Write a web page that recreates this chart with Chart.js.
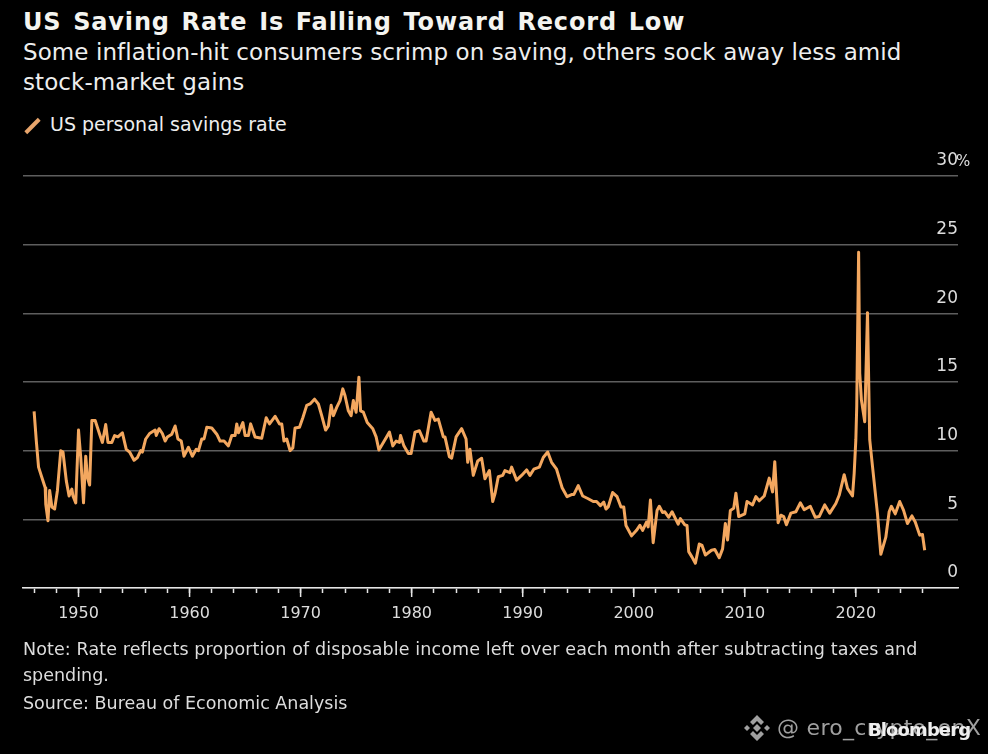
<!DOCTYPE html>
<html>
<head>
<meta charset="utf-8">
<title>US Saving Rate</title>
<script src="https://cdn.jsdelivr.net/npm/chart.js@4"></script>
<style>
  html, body { margin: 0; background: #000; }
  body { position: relative; width: 988px; height: 754px; overflow: hidden; font-family: "DejaVu Sans", sans-serif; color: #eee; }
  canvas { position: absolute; left: 0; top: 0; }
  .txt { position: absolute; white-space: nowrap; }
  #title { left: 23px; top: 8px; font-size: 24px; font-weight: bold; color: #f4f4f0; letter-spacing: 0.85px; word-spacing: 2.5px; }
  .sub { left: 23px; font-size: 23px; color: #eee; letter-spacing: 0.08px; }
  #legend { left: 50px; top: 113px; font-size: 19px; color: #eee; }
  #swatch { position: absolute; left: 23px; top: 124px; width: 19px; height: 4px; background: #e8a56c; transform: rotate(-45deg); }
  .note { left: 23px; font-size: 17.5px; color: #ddd; }
  #pct { left: 956px; top: 152px; font-size: 15px; color: #ddd; }
  #mark { left: 777px; top: 715px; font-size: 22px; color: #a0a0a0; letter-spacing: 0.3px; }
  #brand { left: 868px; top: 719px; font-size: 18px; font-weight: bold; color: #eee; letter-spacing: -0.9px; }
  #icon { position: absolute; left: 743px; top: 714px; }
</style>
</head>
<body>
<div class="txt" id="title">US Saving Rate Is Falling Toward Record Low</div>
<div class="txt sub" style="top:39px">Some inflation-hit consumers scrimp on saving, others sock away less amid</div>
<div class="txt sub" style="top:69px">stock-market gains</div>
<div id="swatch"></div>
<div class="txt" id="legend">US personal savings rate</div>
<canvas id="chart" width="988" height="754"></canvas>
<div class="txt" id="pct">%</div>
<div class="txt note" style="top:639px; letter-spacing:0.11px">Note: Rate reflects proportion of disposable income left over each month after subtracting taxes and</div>
<div class="txt note" style="top:665px">spending.</div>
<div class="txt note" style="top:693px">Source: Bureau of Economic Analysis</div>
<svg id="icon" width="28" height="28" viewBox="0 0 28 28" fill="#a0a0a0">
  <polygon points="14,1 21,8 18,11 14,7 10,11 7,8"/>
  <polygon points="14,27 21,20 18,17 14,21 10,17 7,20"/>
  <polygon points="1,14 4,11 7,14 4,17"/>
  <polygon points="27,14 24,11 21,14 24,17"/>
  <polygon points="14,10 18,14 14,18 10,14"/>
</svg>
<div class="txt" id="mark">@ ero_crypto_onX</div>
<div class="txt" id="brand">Bloomberg</div>
<script>
const years = [
  1946.0, 1946.2, 1946.4, 1946.7, 1947.0, 1947.05, 1947.25, 1947.4, 1947.6, 1947.85,
  1948.1, 1948.4, 1948.6, 1948.9, 1949.15, 1949.4, 1949.5, 1949.75, 1950.0, 1950.2,
  1950.45, 1950.65, 1950.8, 1951.0, 1951.2, 1951.5, 1951.9, 1952.15, 1952.45, 1952.65,
  1953.0, 1953.25, 1953.55, 1953.95, 1954.3, 1954.6, 1955.0, 1955.3, 1955.6, 1955.75,
  1956.05, 1956.4, 1956.9, 1957.0, 1957.25, 1957.55, 1957.8, 1958.0, 1958.4, 1958.7,
  1958.95, 1959.25, 1959.5, 1959.9, 1960.25, 1960.6, 1960.8, 1961.1, 1961.3, 1961.55,
  1962.0, 1962.45, 1962.75, 1963.1, 1963.5, 1963.8, 1964.1, 1964.25, 1964.4, 1964.8,
  1965.0, 1965.3, 1965.5, 1965.9, 1966.5, 1966.9, 1967.2, 1967.7, 1968.1, 1968.3,
  1968.5, 1968.75, 1969.05, 1969.3, 1969.5, 1969.9, 1970.2, 1970.55, 1970.85, 1971.25,
  1971.6, 1971.9, 1972.25, 1972.5, 1972.75, 1972.95, 1973.25, 1973.55, 1973.8, 1974.0,
  1974.3, 1974.55, 1974.75, 1975.0, 1975.25, 1975.4, 1975.65, 1976.0, 1976.5, 1976.8,
  1977.05, 1977.45, 1978.0, 1978.3, 1978.6, 1978.9, 1979.0, 1979.3, 1979.7, 1979.95,
  1980.3, 1980.7, 1981.1, 1981.3, 1981.75, 1982.1, 1982.4, 1982.85, 1983.0, 1983.4,
  1983.6, 1984.0, 1984.5, 1984.9, 1985.05, 1985.25, 1985.55, 1985.95, 1986.3, 1986.6,
  1987.0, 1987.3, 1987.5, 1987.8, 1988.2, 1988.4, 1988.85, 1989.0, 1989.45, 1989.9,
  1990.35, 1990.65, 1991.0, 1991.5, 1991.85, 1992.25, 1992.6, 1993.05, 1993.55, 1994.0,
  1994.4, 1994.6, 1995.0, 1995.4, 1995.9, 1996.35, 1996.65, 1997.0, 1997.3, 1997.5,
  1997.7, 1998.1, 1998.5, 1998.85, 1999.1, 1999.3, 1999.8, 2000.25, 2000.55, 2000.8,
  2001.15, 2001.3, 2001.5, 2001.75, 2002.1, 2002.3, 2002.6, 2002.8, 2003.15, 2003.45,
  2004.0, 2004.2, 2004.6, 2004.8, 2004.95, 2005.25, 2005.55, 2005.9, 2006.15, 2006.45,
  2007.0, 2007.3, 2007.7, 2008.0, 2008.25, 2008.45, 2008.7, 2009.0, 2009.2, 2009.45,
  2010.0, 2010.2, 2010.7, 2011.0, 2011.3, 2011.75, 2012.2, 2012.5, 2012.7, 2013.0,
  2013.25, 2013.5, 2013.75, 2014.15, 2014.6, 2015.0, 2015.35, 2015.9, 2016.35, 2016.7,
  2017.2, 2017.65, 2018.2, 2018.5, 2018.95, 2019.25, 2019.7, 2019.85, 2020.0, 2020.08,
  2020.25, 2020.35, 2020.5, 2020.8, 2021.05, 2021.25, 2021.5, 2021.95, 2022.25, 2022.7,
  2023.0, 2023.2, 2023.55, 2023.95, 2024.3, 2024.65, 2025.05, 2025.35, 2025.75, 2026.0,
  2026.2
];
const savingsRate = [
  12.86, 10.7, 8.8, 8.05, 7.3, 6.1, 4.9, 7.1, 5.9, 5.75,
  7.1, 10.0, 9.9, 7.8, 6.7, 7.2, 6.7, 6.2, 11.5, 9.5,
  6.2, 9.6, 8.05, 7.5, 12.2, 12.2, 11.2, 10.6, 11.9, 10.6,
  10.6, 11.1, 11.0, 11.3, 10.1, 9.9, 9.3, 9.5, 10.0, 9.9,
  10.85, 11.25, 11.5, 11.1, 11.6, 11.25, 10.7, 11.0, 11.2, 11.8,
  10.85, 10.7, 9.6, 10.25, 9.6, 10.1, 10.0, 10.85, 10.85, 11.7,
  11.65, 11.2, 10.7, 10.7, 10.35, 11.1, 11.1, 11.95, 11.3, 12.05,
  11.1, 11.1, 11.95, 11.0, 10.9, 12.4, 11.95, 12.5, 11.95, 11.95,
  10.7, 10.85, 10.0, 10.2, 11.65, 11.7, 12.4, 13.3, 13.4, 13.75,
  13.4, 12.55, 11.5, 11.8, 13.3, 12.55, 13.15, 13.65, 14.5, 14.0,
  12.9, 12.55, 13.65, 12.8, 15.35, 12.9, 12.8, 12.05, 11.6, 11.0,
  10.05, 10.6, 11.35, 10.35, 10.7, 10.6, 11.1, 10.35, 9.8, 9.8,
  11.35, 11.45, 10.7, 10.7, 12.8, 12.2, 12.3, 11.0, 11.0, 9.55,
  9.45, 11.0, 11.6, 10.85, 9.15, 10.1, 8.2, 9.25, 9.45, 7.95,
  8.55, 6.3, 6.85, 8.1, 8.2, 8.55, 8.4, 8.8, 7.85, 8.2,
  8.6, 8.2, 8.65, 8.8, 9.5, 9.9, 9.15, 8.65, 7.3, 6.65,
  6.8, 6.8, 7.45, 6.7, 6.5, 6.3, 6.3, 6.0, 6.25, 5.75,
  5.9, 6.95, 6.65, 5.9, 5.9, 4.55, 3.8, 4.2, 4.57, 4.2,
  4.8, 4.45, 6.4, 3.3, 5.65, 5.95, 5.5, 5.55, 5.15, 5.55,
  4.65, 5.05, 4.6, 4.55, 2.65, 2.25, 1.8, 3.2, 3.1, 2.4,
  2.75, 2.8, 2.2, 2.85, 4.7, 3.5, 5.65, 5.8, 6.9, 5.2,
  5.4, 6.3, 6.05, 6.65, 6.35, 6.7, 8.0, 7.0, 9.2, 4.75,
  5.3, 5.2, 4.6, 5.45, 5.55, 6.2, 5.7, 5.95, 5.15, 5.2,
  6.05, 5.45, 6.15, 6.75, 8.25, 7.25, 6.7, 8.35, 10.8, 13.2,
  24.45, 15.65, 13.7, 12.1, 20.05, 10.8, 8.85, 5.4, 2.45, 3.7,
  5.55, 5.95, 5.4, 6.3, 5.65, 4.7, 5.25, 4.8, 3.85, 3.9,
  2.75
];
const yTicks = [0, 5, 10, 15, 20, 25, 30];

// decade ticks are a bit longer than the two-year ones
const longTicks = {
  id: "longTicks",
  afterDraw(chart) {
    const ctx = chart.ctx;
    const x = chart.scales.x;
    ctx.save();
    ctx.strokeStyle = "#e6e6e6";
    ctx.lineWidth = 1.5;
    x.ticks.forEach(t => {
      if (t.value % 10 !== 0) return;
      const px = x.getPixelForValue(t.value);
      ctx.beginPath();
      ctx.moveTo(px, x.top);
      ctx.lineTo(px, x.top + 9);
      ctx.stroke();
    });
    ctx.restore();
  }
};

new Chart(document.getElementById("chart"), {
  type: "line",
  data: {
    datasets: [{
      label: "US personal savings rate",
      data: years.map((y, i) => ({ x: y, y: savingsRate[i] })),
      borderColor: "#f3a75f",
      borderWidth: 3,
      borderJoinStyle: "round",
      pointRadius: 0,
      tension: 0
    }]
  },
  options: {
    responsive: false,
    animation: false,
    layout: { padding: { left: 23, right: 30, top: 176, bottom: 0 } },
    plugins: { legend: { display: false }, tooltip: { enabled: false } },
    scales: {
      x: {
        type: "linear",
        min: 1945,
        max: 2029.2,
        afterBuildTicks(scale) {
          const t = [];
          for (let v = 1946; v <= 2026; v += 2) t.push({ value: v });
          scale.ticks = t;
        },
        afterFit(scale) { scale.height = 166; },
        grid: { drawOnChartArea: false, drawTicks: true, tickLength: 5, tickColor: "#e6e6e6", tickWidth: 1.5 },
        border: { color: "#e6e6e6", width: 1.5 },
        ticks: {
          autoSkip: false,
          maxRotation: 0,
          padding: 11,
          color: "#ddd",
          font: { family: "DejaVu Sans", size: 16 },
          callback: v => (v % 10 === 0 ? String(v) : "")
        }
      },
      y: {
        position: "right",
        min: 0,
        max: 30,
        afterBuildTicks(scale) { scale.ticks = yTicks.map(v => ({ value: v })); },
        afterFit(scale) { scale.width = 0; },
        grid: { color: "#5e5e5e", lineWidth: 1.5, drawTicks: false },
        border: { display: false },
        ticks: {
          mirror: true,
          padding: 0,
          labelOffset: -15,
          color: "#ddd",
          font: { family: "DejaVu Sans", size: 17 }
        }
      }
    }
  },
  plugins: [longTicks]
});
</script>
</body>
</html>
